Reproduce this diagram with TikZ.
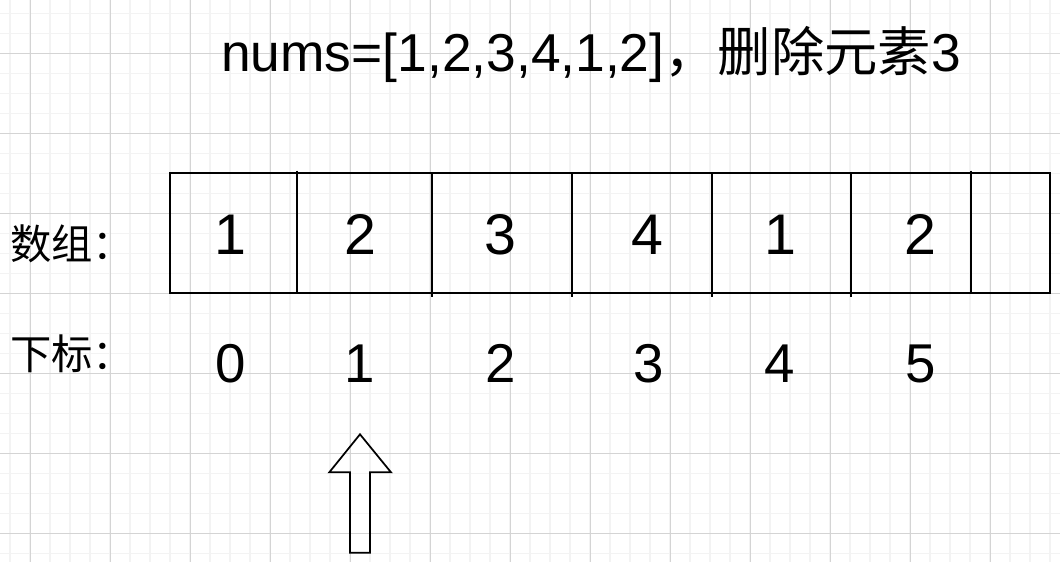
\documentclass[tikz,border=0pt]{standalone}
\usepackage{fontspec}
\setmainfont{Liberation Sans}
\newfontfamily\cjk{Noto Sans CJK SC}
\definecolor{gridmajor}{HTML}{D4D4D4}
\definecolor{gridminor}{HTML}{F3F3F3}

\begin{document}
\begin{tikzpicture}[x=0.75pt, y=-0.75pt,
    minorline/.style={gridminor, line width=1pt},
    majorline/.style={gridmajor, line width=0.75pt},
    cellline/.style={line width=1.6pt},
    valtext/.style={anchor=base, font=\fontsize{43}{50}\selectfont},
    idxtext/.style={anchor=base, font=\fontsize{41}{48}\selectfont},
    labeltext/.style={anchor=base west, inner sep=0pt, font=\cjk\fontsize{31}{36}\selectfont}]
    \useasboundingbox (0,0) rectangle (1060,562);

    % Cuadricula de fondo
    \foreach \k in {0,...,52} \draw[minorline] (10+20*\k,0) -- (10+20*\k,562);
    \foreach \k in {0,...,27} \draw[minorline] (0,13.33+20*\k) -- (1060,13.33+20*\k);
    \foreach \k in {0,...,12} \draw[majorline] (30+80*\k,0) -- (30+80*\k,562);
    \foreach \k in {0,...,6} \draw[majorline] (0,53.33+80*\k) -- (1060,53.33+80*\k);

    % Titulo
    \node[anchor=base, font=\fontsize{40}{48}\selectfont] (title) at (591,71)
        {nums=[1,2,3,4,1,2]{\cjk ，删除元素}3};

    % Arreglo
    \draw[cellline] (170,173.33) rectangle (1050,293.33);
    \draw[cellline] (297.3,170.7) -- (297.3,293.33);
    \draw[cellline] (431.7,173.33) -- (431.7,297);
    \draw[cellline] (571.7,173.33) -- (571.7,297);
    \draw[cellline] (711.7,173.33) -- (711.7,297);
    \draw[cellline] (850.7,173.33) -- (850.7,297);
    \draw[cellline] (971,170.7) -- (971,293.33);

    % Valores y subindices
    \foreach \x/\v [count=\i from 0] in {230.8/1,360.8/2,500.5/3,647.5/4,780/1,920.8/2}
        \node[valtext] (val\i) at (\x,254.3) {\v};
    \foreach \x [count=\i from 0] in {230.7,360,500.7,649,780,920.7}
        \node[idxtext] (idx\i) at (\x,382.7) {\i};

    % Etiquetas
    \node[labeltext] (arraylabel) at (10,259) {数组：};
    \node[labeltext] (indexlabel) at (10,369) {下标：};

    % Flecha
    \draw[line width=1.3pt, line join=miter] (350,552.7) -- (350,472.3) -- (329.3,472.3)
        -- (360,434.3) -- (391,472.3) -- (370,472.3) -- (370,552.7) -- cycle;
\end{tikzpicture}
\end{document}
